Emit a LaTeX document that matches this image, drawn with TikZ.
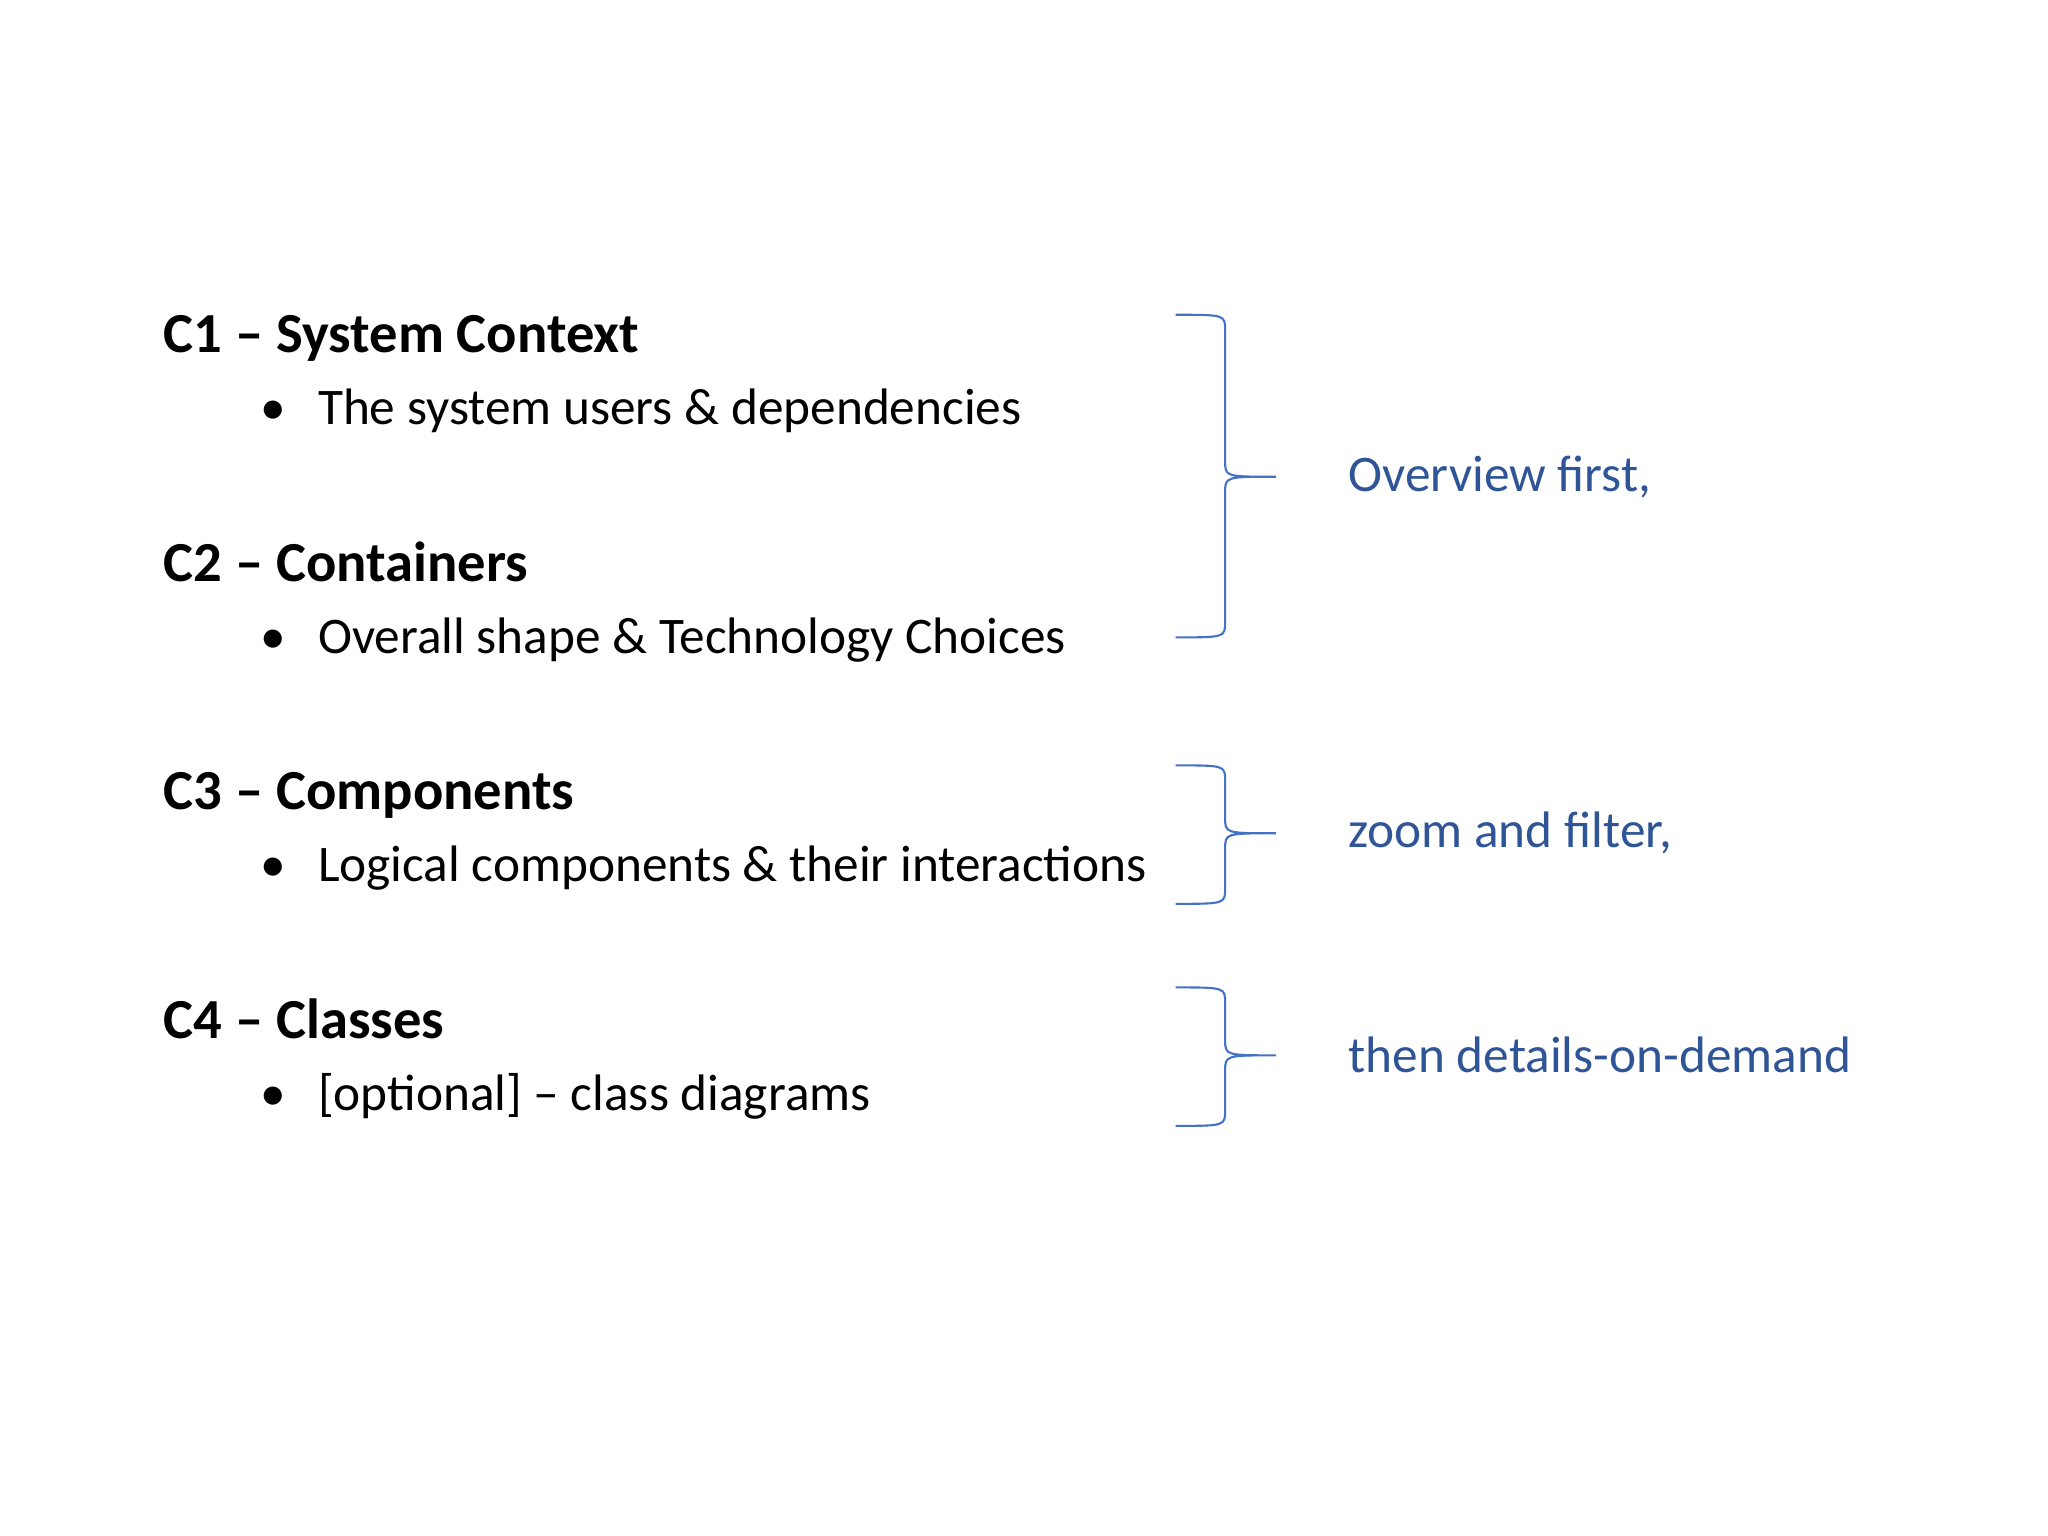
\documentclass[tikz,border=0pt]{standalone}
\usepackage{fontspec}
\setmainfont{Carlito}
\usetikzlibrary{positioning}
\definecolor{slideblue}{HTML}{2F5597}
\definecolor{bracecol}{HTML}{4472C4}
\tikzset{
  level/.style={anchor=base west, font=\fontsize{16.1}{19}\selectfont\bfseries},
  detail/.style={anchor=base west, font=\fontsize{14.6}{18}\selectfont},
  dot/.style={anchor=base, font=\fontsize{14.6}{18}\selectfont},
  note/.style={anchor=west, text=slideblue, font=\fontsize{14.6}{18}\selectfont},
  brace/.style={draw=bracecol, line width=0.6pt}
}
\begin{document}
\begin{tikzpicture}[x=0.01306cm, y=-0.01306cm]
\useasboundingbox (0,0) rectangle (1568,1176);

\foreach \t/\d/\y [count=\i] in {C1 -- System Context/The system users \& dependencies/270,
  C2 -- Containers/Overall shape \& Technology Choices/445,
  C3 -- Components/Logical components \& their interactions/620,
  C4 -- Classes/{[optional] -- class diagrams}/795}
{
  \node [level] (level-\i) at (116,\y) {\t};
  \node [dot] (dot-\i) at (209,\y+55) {\textbullet};
  \node [detail] (detail-\i) at (234,\y+55) {\d};
}

% braces: top / tip / bottom
\foreach \a/\m/\b [count=\i] in {241/365/488, 586/638/692, 756/808/862}
{
  \coordinate (top-\i) at (900,\a);
  \coordinate (tip-\i) at (977,\m);
  \coordinate (bot-\i) at (900,\b);
  \draw [brace] (top-\i) .. controls (938,\a) .. (938,\a+12) -- (938,\m-12)
    .. controls (938,\m) .. (tip-\i) .. controls (938,\m) .. (938,\m+12)
    -- (938,\b-12) .. controls (938,\b) .. (bot-\i);
}

\node [note] (note-1) at (1023,365) {Overview first,};
\node [note] (note-2) at (1023,638) {zoom and filter,};
\node [note] (note-3) at (1023,808) {then details-on-demand};
\end{tikzpicture}
\end{document}
